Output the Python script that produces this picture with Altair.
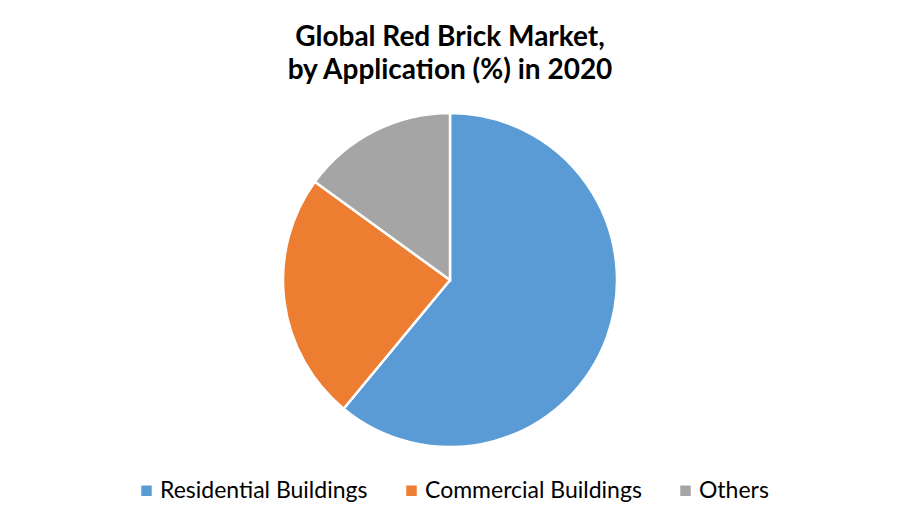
import altair as alt
import pandas as pd

categories = ["Residential Buildings", "Commercial Buildings", "Others"]
shares = [61, 24, 15]
colors = ["#5B9BD5", "#ED7D31", "#A5A5A5"]
title_lines = ["Global Red Brick Market,", "by Application (%) in 2020"]

df = pd.DataFrame({"category": categories, "share": shares, "order": list(range(len(categories)))})

pie = alt.Chart(df).mark_arc(outerRadius=167, stroke="white", strokeWidth=2.5).encode(
    theta=alt.Theta("share:Q", stack=True),
    order=alt.Order("order:Q"),
    color=alt.Color(
        "category:N",
        sort=categories,
        scale=alt.Scale(domain=categories, range=colors),
        legend=alt.Legend(
            title=None,
            orient="none",
            direction="horizontal",
            legendX=127,
            legendY=471,
            symbolType="square",
            symbolSize=110,
            symbolStrokeWidth=0,
            labelFont="Lato",
            labelFontSize=23,
            labelColor="#000000",
            labelLimit=0,
            columnPadding=32,
            labelOffset=2,
        ),
    ),
    x=alt.value(442),
    y=alt.value(272),
)

title = alt.Chart(pd.DataFrame({"t": [0]})).mark_text(
    text=title_lines,
    font="Lato",
    fontSize=28,
    fontWeight="bold",
    color="#000000",
    lineHeight=33,
    align="center",
    baseline="alphabetic",
).encode(x=alt.value(442), y=alt.value(38))

chart = alt.layer(pie, title).properties(
    width=884,
    height=509,
    autosize=alt.AutoSizeParams(type="none"),
    padding=0,
    background="white",
).configure_view(strokeWidth=0, stroke="transparent")

chart.save("out.html", embed_options={"renderer": "svg", "actions": False})
